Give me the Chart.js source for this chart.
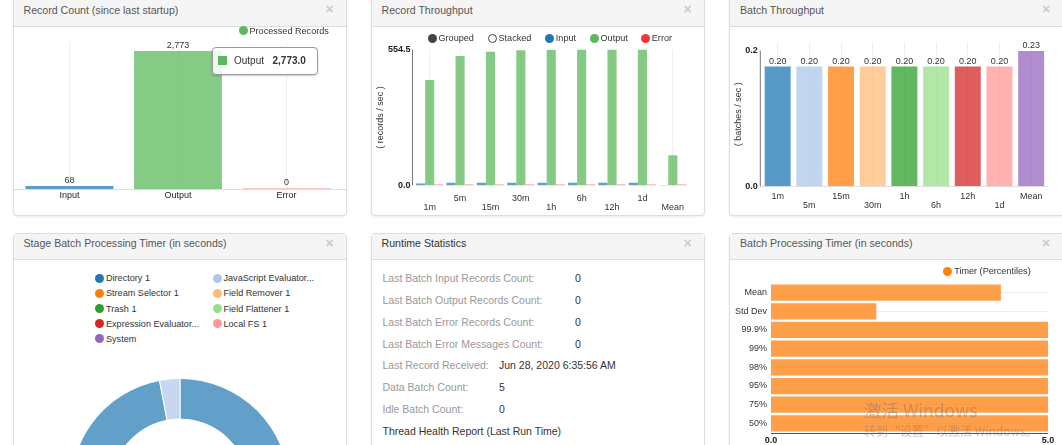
<!DOCTYPE html>
<html>
<head>
<meta charset="utf-8">
<script src="https://cdn.jsdelivr.net/npm/chart.js@4"></script>
<style>
html, body { margin: 0; padding: 0; background: #fff; }
body { width: 1062px; height: 445px; overflow: hidden; position: relative; font-family: "Liberation Sans", Arial, sans-serif; color: #333; }
.panel { position: absolute; box-sizing: border-box; background: #fff; border: 1px solid #ddd; border-radius: 4px; box-shadow: 0 1px 2px rgba(0,0,0,.08); }
.head { box-sizing: border-box; background: #f5f5f5; border-bottom: 1px solid #ddd; }
.title { position: absolute; font-size: 10.6px; line-height: 13px; color: #555; white-space: nowrap; }
.close { position: absolute; font-size: 14px; font-weight: bold; color: #ccc; line-height: 14px; }
canvas { position: absolute; }
.leg { position: absolute; font-size: 9.1px; line-height: 12px; white-space: nowrap; color: #333; }
.tipText { position: absolute; font-size: 10px; line-height: 12px; white-space: nowrap; color: #333; }
.dot { position: absolute; width: 9px; height: 9px; border-radius: 50%; box-sizing: border-box; }
.stat { position: absolute; font-size: 10.5px; line-height: 14px; white-space: nowrap; }
.tip { position: absolute; width: 106px; height: 28px; box-sizing: border-box; background: rgba(255,255,255,.85); border: 1px solid #999; border-radius: 4px; box-shadow: 0 1px 2px rgba(0,0,0,.2); }
.mark { position: absolute; white-space: nowrap; color: rgba(110,110,110,.38); }
</style>
</head>
<body>
<script>
// 데이터
const countLabels = ['Input', 'Output', 'Error'];
const countValues = [68, 2773, 0];

const rateLabels = ['1m', '5m', '15m', '30m', '1h', '6h', '12h', '1d', 'Mean'];
const inputRate = [8, 11, 11, 11, 11, 11, 11, 11, 2];
const outputRate = [430, 528, 545, 551, 553, 554.5, 554.5, 554, 123];
const errorRate = [0, 0, 0, 0, 0, 0, 0, 0, 0];
const batchRate = [0.2, 0.2, 0.2, 0.2, 0.2, 0.2, 0.2, 0.2, 0.226];

const stageLabels = ['Directory 1', 'JavaScript Evaluator...', 'Stream Selector 1', 'Field Remover 1', 'Trash 1', 'Field Flattener 1', 'Expression Evaluator...', 'Local FS 1', 'System'];
const stageValues = [97, 3, 0, 0, 0, 0, 0, 0, 0];

const timerLabels = ['Mean', 'Std Dev', '99.9%', '99%', '98%', '95%', '75%', '50%'];
const timerValues = [4.15, 1.9, 5, 5, 5, 5, 5, 5];

const statLabels = ['Last Batch Input Records Count:', 'Last Batch Output Records Count:', 'Last Batch Error Records Count:', 'Last Batch Error Messages Count:', 'Last Record Received:', 'Data Batch Count:', 'Idle Batch Count:'];
const statValues = ['0', '0', '0', '0', 'Jun 28, 2020 6:35:56 AM', '5', '0'];

const palette = ['#1f77b4', '#aec7e8', '#ff7f0e', '#ffbb78', '#2ca02c', '#98df8a', '#d62728', '#ff9896', '#9467bd'];

const alpha = (hex, a) => {
    const n = parseInt(hex.slice(1), 16);
    return `rgba(${n >> 16},${(n >> 8) & 255},${n & 255},${a})`;
};

// 패널
function addEl(cls, left, top, text) {
    const el = document.createElement('div');
    el.className = cls;
    el.style.left = left + 'px';
    el.style.top = top + 'px';
    if (text !== undefined) el.textContent = text;
    document.body.appendChild(el);
    return el;
}

function addPanel(left, top, width, height, headH, titleY, title) {
    const p = addEl('panel', left, top);
    p.style.width = width + 'px';
    p.style.height = height + 'px';
    p.innerHTML = `<div class="head" style="height:${headH}px"></div>`;
    addEl('close', left + 313, titleY - 8, '×');
    return addEl('title', left + 11, titleY - 6.5, title);
}

function addLegend(dotX, y, text, color, hollow) {
    const d = addEl('dot', dotX - 4.5, y - 4.5);
    if (hollow) d.style.border = '1.5px solid #444';
    else d.style.background = color;
    addEl('leg', dotX + 6.5, y - 6, text);
}

function addCanvas(left, top, w, h) {
    const c = document.createElement('canvas');
    c.width = w;
    c.height = h;
    c.style.left = left + 'px';
    c.style.top = top + 'px';
    c.style.width = w + 'px';
    c.style.height = h + 'px';
    document.body.appendChild(c);
    return c.getContext('2d');
}

addPanel(12.5, -6, 334, 222, 32, 10, 'Record Count (since last startup)');
addPanel(370.5, -6, 334, 222, 32, 10, 'Record Throughput');
addPanel(729, -6, 400, 222, 32, 10, 'Batch Throughput');
addPanel(12.5, 233, 334, 300, 26, 243.5, 'Stage Batch Processing Timer (in seconds)');
addPanel(370.5, 233, 334, 300, 26, 243.5, 'Runtime Statistics').style.color = '#333';
addPanel(729, 233, 400, 300, 26, 243.5, 'Batch Processing Timer (in seconds)');

// 차트 공통
Chart.defaults.font.family = '"Liberation Sans", Arial, sans-serif';
Chart.defaults.font.size = 9;
Chart.defaults.color = '#333';
Chart.defaults.animation = false;

const gridColor = '#eee';
const baseOptions = (pad) => ({
    responsive: false,
    maintainAspectRatio: false,
    layout: { padding: pad },
    plugins: { legend: { display: false }, tooltip: { enabled: false } }
});

const fitH = (h) => (s) => { s.height = h; };
const fitW = (w) => (s) => { s.width = w; };

// 막대 위 값 표시
const valueLabels = (fmt) => ({
    id: 'valueLabels',
    afterDatasetsDraw(chart) {
        const ctx = chart.ctx;
        const meta = chart.getDatasetMeta(0);
        ctx.save();
        ctx.font = '9px "Liberation Sans", Arial, sans-serif';
        ctx.fillStyle = '#333';
        ctx.textAlign = 'center';
        ctx.textBaseline = 'bottom';
        meta.data.forEach((bar, i) => {
            ctx.fillText(fmt(chart.data.datasets[0].data[i]), bar.x, bar.y - 1);
        });
        ctx.restore();
    }
});

const axisLines = (o) => ({
    id: 'axisLines',
    afterDatasetsDraw(chart) {
        const ctx = chart.ctx;
        const a = chart.chartArea;
        ctx.save();
        ctx.lineWidth = 1;
        if (o.base) {
            const y = Math.floor(a.bottom) + 0.5 + (o.base.gap || 0);
            ctx.strokeStyle = o.base.color;
            ctx.beginPath();
            ctx.moveTo(o.base.from, y);
            ctx.lineTo(o.base.to, y);
            ctx.stroke();
        }
        if (o.side) {
            const x = a.left - o.side.gap;
            ctx.strokeStyle = o.side.color;
            ctx.beginPath();
            ctx.moveTo(x, o.side.top);
            ctx.lineTo(x, a.bottom);
            ctx.stroke();
        }
        ctx.restore();
    }
});

// 두 줄로 엇갈린 x축 라벨
const staggered = (labels, lowerFirst) => labels.map((t, i) => ((i % 2 === 0) === lowerFirst ? ['', t] : [t, '']));

// Record Count
new Chart(addCanvas(13, 27, 333, 188), {
    type: 'bar',
    data: {
        labels: countLabels,
        datasets: [{
            data: countValues,
            backgroundColor: [alpha('#1f77b4', 0.72), alpha('#5cb85c', 0.75), alpha('#ff5555', 0.7)],
            barPercentage: 0.81,
            categoryPercentage: 1,
            minBarLength: 1
        }]
    },
    options: {
        ...baseOptions({ left: 2.25, right: 5.25, top: 15 }),
        scales: {
            x: {
                grid: { offset: false, color: gridColor, drawTicks: false },
                border: { display: false },
                ticks: { padding: 1, color: '#222' },
                afterFit: fitH(25.5)
            },
            y: { display: false, min: 0, max: 2953 }
        }
    },
    plugins: [
        valueLabels((v) => v.toLocaleString('en-US')),
        axisLines({ base: { color: '#ddd', from: 0, to: 333 } })
    ]
});
addLegend(243, 30.5, 'Processed Records', '#5cb85c');

addEl('tip', 212, 47);
addEl('dot', 217.5, 56).style.cssText += 'border-radius:0;background:#5cb85c;';
addEl('tipText', 234, 54.5, 'Output');
addEl('tipText', 272.5, 54.5, countValues[1].toLocaleString('en-US') + '.0').style.fontWeight = 'bold';

// Record Throughput
new Chart(addCanvas(371, 27, 334, 188), {
    type: 'bar',
    data: {
        labels: staggered(rateLabels, true),
        datasets: [
            { label: 'Input', data: inputRate, backgroundColor: alpha('#1f77b4', 0.7) },
            { label: 'Output', data: outputRate, backgroundColor: alpha('#5cb85c', 0.75) },
            { label: 'Error', data: errorRate, backgroundColor: alpha('#ff5555', 0.7), minBarLength: 1 }
        ].map((d) => ({ ...d, barPercentage: 1, categoryPercentage: 0.9 }))
    },
    options: {
        ...baseOptions({ right: 17, top: 22.5 }),
        scales: {
            x: {
                grid: { offset: false, color: gridColor, drawTicks: false },
                border: { display: false },
                ticks: { padding: 8, autoSkip: false, maxRotation: 0, color: '#333', font: { lineHeight: 1.03 } },
                afterFit: fitH(29.5)
            },
            y: {
                min: 0,
                max: 554.5,
                afterBuildTicks: (s) => { s.ticks = [{ value: 0 }, { value: 554.5 }]; },
                grid: { display: false, drawTicks: false },
                border: { display: false },
                ticks: { padding: 4, color: '#222', font: { weight: 'bold' }, callback: (v) => v.toFixed(1) },
                title: { display: true, text: '( records / sec )', color: '#333', padding: { top: 4, bottom: 0 } },
                afterFit: fitW(43.5)
            }
        }
    },
    plugins: [axisLines({ side: { gap: 2, color: '#777', top: 22.5 } })]
});
addLegend(432, 38, 'Grouped', '#444');
addLegend(492, 38, 'Stacked', '#fff', true);
addLegend(549.3, 38, 'Input', '#1f77b4');
addLegend(594, 38, 'Output', '#5cb85c');
addLegend(645.3, 38, 'Error', '#ff3333');

// Batch Throughput
new Chart(addCanvas(730, 27, 332, 188), {
    type: 'bar',
    data: {
        labels: staggered(rateLabels, false),
        datasets: [{
            data: batchRate,
            backgroundColor: palette.map((c) => alpha(c, 0.75)),
            barPercentage: 0.82,
            categoryPercentage: 1
        }]
    },
    options: {
        ...baseOptions({ right: 15, top: 15 }),
        scales: {
            x: {
                grid: { offset: false, color: gridColor, drawTicks: false },
                border: { display: false },
                ticks: { padding: 5, autoSkip: false, maxRotation: 0, color: '#333', font: { lineHeight: 1.03 } },
                afterFit: fitH(28.5)
            },
            y: {
                min: 0,
                max: 0.241,
                afterBuildTicks: (s) => { s.ticks = [{ value: 0 }, { value: 0.226 }]; },
                grid: { display: false, drawTicks: false },
                border: { display: false },
                ticks: { padding: 4, color: '#222', font: { weight: 'bold' }, callback: (v) => v.toFixed(1) },
                title: { display: true, text: '( batches / sec )', color: '#333', padding: { top: 3, bottom: 0 } },
                afterFit: fitW(31.8)
            }
        }
    },
    plugins: [
        valueLabels((v) => v.toFixed(2)),
        axisLines({
            base: { color: '#ddd', from: 31, to: 318 },
            side: { gap: 1.5, color: '#777', top: 23.5 }
        })
    ]
});

// Stage Batch Processing Timer
new Chart(addCanvas(70, 378, 220, 220), {
    type: 'doughnut',
    data: {
        labels: stageLabels,
        datasets: [{
            data: stageValues,
            backgroundColor: palette.map((c) => alpha(c, 0.7)),
            borderColor: '#fff',
            borderWidth: 1
        }]
    },
    options: { ...baseOptions(0), cutout: '63%' }
});
stageLabels.forEach((t, i) => {
    addLegend(i % 2 === 0 ? 99.5 : 217, 278.3 + Math.floor(i / 2) * 15.1, t, palette[i]);
});

// Runtime Statistics
const statRows = [277.7, 299.7, 321.7, 343.5, 365.4, 387.3, 409.2];
const statColumns = [575, 575, 575, 575, 499, 499, 499];
statLabels.forEach((t, i) => {
    addEl('stat', 382.5, statRows[i] - 7, t).style.color = '#999';
    addEl('stat', statColumns[i], statRows[i] - 7, statValues[i]);
});
addEl('stat', 382.5, 424, 'Thread Health Report (Last Run Time)');

// Batch Processing Timer
new Chart(addCanvas(730, 260, 332, 185), {
    type: 'bar',
    data: {
        labels: timerLabels,
        datasets: [{
            data: timerValues,
            backgroundColor: alpha('#ff7f0e', 0.75),
            barPercentage: 0.87,
            categoryPercentage: 1
        }]
    },
    options: {
        ...baseOptions({ right: 14, top: 23.3 }),
        indexAxis: 'y',
        scales: {
            x: {
                min: 0,
                max: 5,
                grid: { display: false, drawTicks: false },
                border: { display: false },
                ticks: { stepSize: 5, padding: 2, color: '#222', maxRotation: 0, font: { weight: 'bold' }, callback: (v) => v.toFixed(1) },
                afterFit: fitH(12.3)
            },
            y: {
                grid: { offset: false, color: gridColor, drawTicks: false },
                border: { display: false },
                ticks: { padding: 4, autoSkip: false, color: '#333' },
                afterFit: fitW(41)
            }
        }
    },
    plugins: [axisLines({ base: { color: '#555', from: 41, to: 318, gap: 1 } })]
});
addLegend(947.7, 271, 'Timer (Percentiles)', '#ff7f0e');

// 화면 워터마크
const mark1 = addEl('mark', 864, 399, '激活 Windows');
mark1.style.cssText += 'font-size:17.5px;font-family:"Noto Sans CJK SC";line-height:22px;';
const mark2 = addEl('mark', 864, 423, '转到“设置”以激活 Windows。');
mark2.style.cssText += 'font-size:12px;font-family:"Noto Sans CJK SC";line-height:15px;';
</script>
</body>
</html>
